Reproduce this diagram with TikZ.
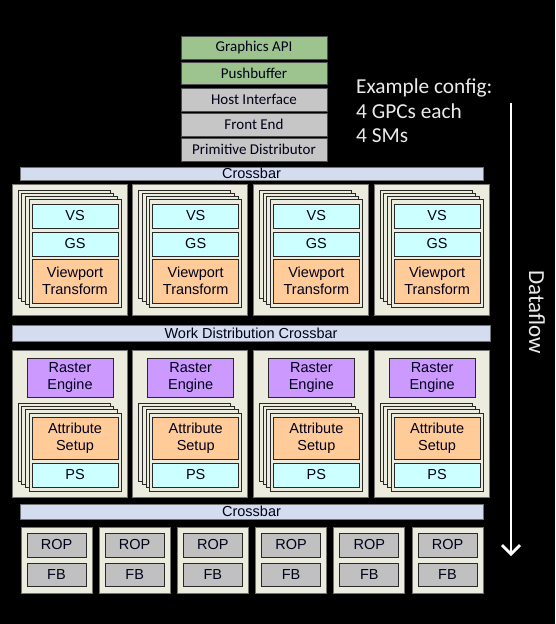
\documentclass[tikz,border=0pt]{standalone}
\usepackage{fontspec}
\setmainfont{Liberation Sans}
\newfontfamily\calfont{Carlito}
\usetikzlibrary{arrows.meta}
\definecolor{bggreen}{RGB}{157,196,143}
\definecolor{bggray}{RGB}{198,198,198}
\definecolor{xbar}{RGB}{211,221,239}
\definecolor{frame}{RGB}{236,236,222}
\definecolor{cyanbox}{RGB}{204,255,255}
\definecolor{orangebox}{RGB}{255,204,153}
\definecolor{purplebox}{RGB}{204,153,255}
\definecolor{ropgray}{RGB}{192,192,192}
\definecolor{edge}{RGB}{40,40,40}
\newcommand\pbox[7]{\node[#1, minimum width={(#4)-(#2)}, minimum height={(#5)-(#3)}] (#6) at ({((#2)+(#4))/2},{((#3)+(#5))/2}) {#7};}
\tikzset{
  base/.style={draw=edge, line width=0.9pt, inner sep=0pt, align=center, text=black!90!blue, font=\fontsize{14.5}{16.5}\selectfont},
  topbox/.style={base, draw=black!70, font=\calfont\fontsize{15}{18}\selectfont},
  greenbox/.style={topbox, fill=bggreen},
  graybox/.style={topbox, fill=bggray},
  xbarbox/.style={base, draw=black!55, fill=xbar},
  framebox/.style={base, draw=black!55, fill=frame},
  layer/.style={base, draw=edge, fill=frame, line width=0.8pt},
  cyan/.style={base, fill=cyanbox},
  orange/.style={base, fill=orangebox},
  purple/.style={base, fill=purplebox},
  rop/.style={base, fill=ropgray},
  flow/.style={white, line width=2pt, -{Straight Barb[length=9pt, width=18pt, line width=2.8pt]}},
  whitetext/.style={text=white!92!black, font=\calfont\fontsize{21.3}{24.5}\selectfont, inner sep=0pt}
}
\begin{document}
\begin{tikzpicture}[x=1pt, y=-1pt]
\fill[black] (0,0) rectangle (555,624);
\useasboundingbox (0,0) rectangle (555,624);
% top stack
\pbox{greenbox}{181}{36}{327}{59}{api}{Graphics API}
\pbox{greenbox}{181}{62}{327}{84}{push}{Pushbuffer}
\pbox{graybox}{181}{88}{327}{111}{host}{Host Interface}
\pbox{graybox}{181}{113}{327}{136}{front}{Front End}
\pbox{graybox}{181}{138}{327}{161}{prim}{Primitive Distributor}
\pbox{xbarbox}{20}{167}{483}{180}{xbar1}{Crossbar}
% upper GPCs
\foreach \i in {0,1,2,3}{
  \pgfmathsetmacro{\ox}{12+120.7*\i}
  \pbox{framebox}{\ox}{184}{\ox+115}{315}{uf\i}{}
  \foreach \k in {3,2,1}{
    \pbox{layer}{\ox+17-3.7*\k}{199-2.8*\k}{\ox+109-3.7*\k}{307-2.8*\k}{ul\i\k}{}
  }
  \pbox{layer}{\ox+17}{199}{\ox+109}{307}{ul\i0}{}
  \pbox{cyan}{\ox+20}{204}{\ox+106}{228}{vs\i}{VS}
  \pbox{cyan}{\ox+20}{232}{\ox+106}{256}{gs\i}{GS}
  \pbox{orange}{\ox+20}{259}{\ox+106}{303}{vp\i}{Viewport\\Transform}
}
\pbox{xbarbox}{12}{325}{490}{341}{wdx}{Work Distribution Crossbar}
% lower GPCs
\foreach \i in {0,1,2,3}{
  \pgfmathsetmacro{\ox}{12+120.7*\i}
  \pbox{framebox}{\ox}{350}{\ox+115}{497}{lf\i}{}
  \pbox{purple}{\ox+15}{358}{\ox+101}{397}{re\i}{Raster\\Engine}
  \foreach \k in {3,2,1}{
    \pbox{layer}{\ox+17-3.7*\k}{413-3.3*\k}{\ox+109-3.7*\k}{491-3.3*\k}{ll\i\k}{}
  }
  \pbox{layer}{\ox+17}{413}{\ox+109}{491}{ll\i0}{}
  \pbox{orange}{\ox+20}{417}{\ox+106}{459}{as\i}{Attribute\\Setup}
  \pbox{cyan}{\ox+20}{463}{\ox+106}{487}{ps\i}{PS}
}
\pbox{xbarbox}{20}{504}{483}{519}{xbar2}{Crossbar}
% ROP / FB
\foreach \j in {0,...,5}{
  \pgfmathsetmacro{\rx}{21+78.2*\j}
  \pbox{framebox}{\rx}{527}{\rx+71}{593}{rf\j}{}
  \pbox{rop}{\rx+6}{533}{\rx+65}{557}{rop\j}{ROP}
  \pbox{rop}{\rx+6}{563}{\rx+65}{586}{fb\j}{FB}
}
% dataflow
\coordinate (ftop) at (511,103);
\coordinate (fbot) at (511,556);
\draw[flow] (ftop) -- (fbot);
\node[whitetext, rotate=-90, font=\calfont\fontsize{23}{24}\selectfont] (df) at (537,312) {Dataflow};
\node[whitetext, anchor=north west, align=left] (cfg) at (356,79) {Example config:\\4 GPCs each\\4 SMs};
\end{tikzpicture}
\end{document}
